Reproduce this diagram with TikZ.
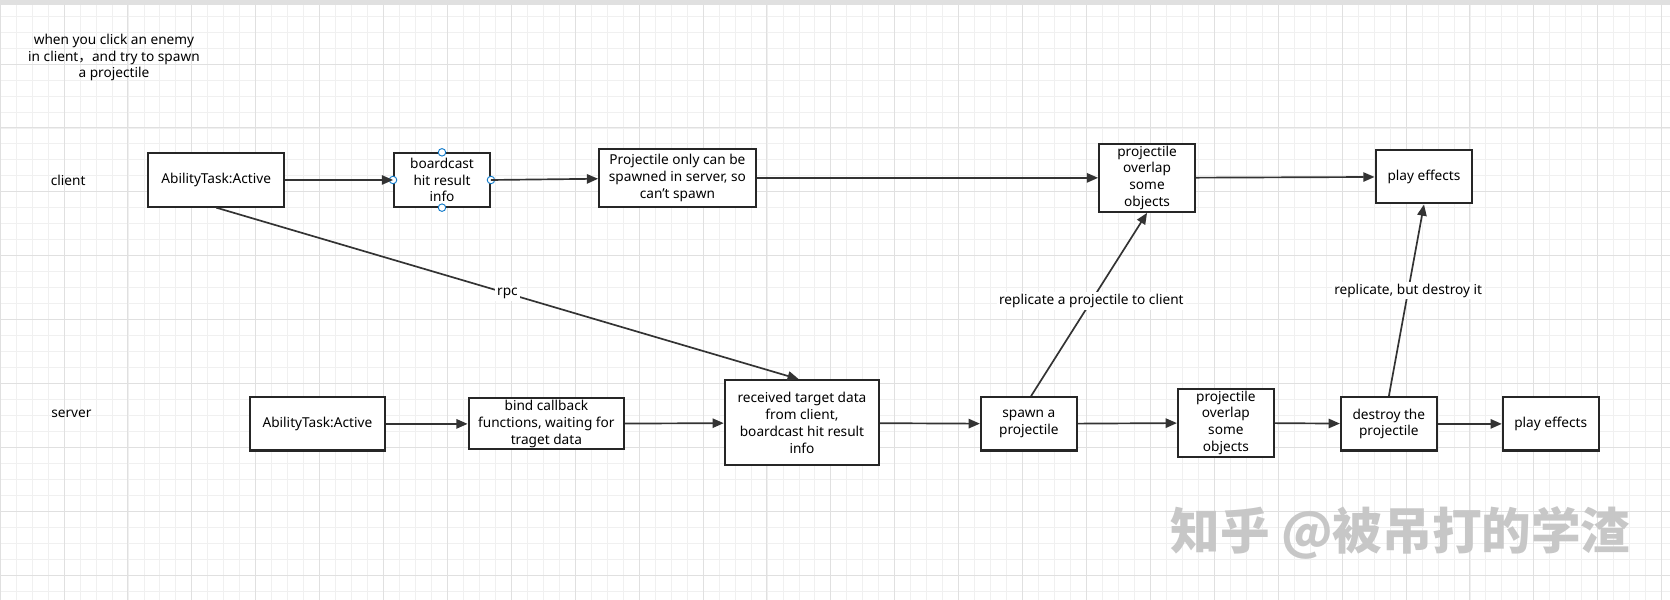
\documentclass[tikz,border=0pt]{standalone}
\usepackage{fontspec}
\setmainfont{Noto Sans}
\newfontfamily\cjk{Noto Sans CJK SC}
\usetikzlibrary{arrows.meta}
\begin{document}
\begin{tikzpicture}[x=0.02cm,y=-0.02cm,
  box/.style={draw=black!85,line width=1.1pt,fill=white,align=center,inner sep=1pt,font=\fontsize{7.3}{9}\selectfont},
  lbl/.style={align=center,font=\fontsize{7.3}{9}\selectfont,fill=white,inner sep=1pt},
  arr/.style={draw=black!80,line width=0.9pt,-{Triangle[length=6pt,width=5pt]}},
  hnd/.style={circle,draw=cyan!60!blue,fill=white,inner sep=0pt,minimum size=4pt,line width=0.5pt}]
\useasboundingbox (0,0) rectangle (1568,563);
\fill[white] (0,0) rectangle (1568,563);
\foreach \i in {0,15,...,1568} \draw[black!6,line width=0.3pt] (\i,0) -- (\i,563);
\foreach \i in {0,15,...,563} \draw[black!6,line width=0.3pt] (0,\i) -- (1568,\i);
\foreach \i in {0,60,...,1568} \draw[black!12,line width=0.4pt] (\i,0) -- (\i,563);
\foreach \i in {0,60,...,563} \draw[black!12,line width=0.4pt] (0,\i) -- (1568,\i);
\fill[black!12] (0,0) rectangle (1568,5);
\node[lbl,fill=none] (note) at (107,54) {when you click an enemy\\in client{\cjk ，}and try to spawn\\a projectile};
\node[lbl,fill=none] (client) at (64,169) {client};
\node[lbl,fill=none] (server) at (67,389) {server};
% client row
\node[box,minimum width=128*0.02cm,minimum height=50*0.02cm] (ca) at (203,169) {AbilityTask:Active};
\node[box,minimum width=90*0.02cm,minimum height=50*0.02cm] (cb) at (415,169) {boardcast\\hit result\\info};
\node[box,minimum width=147*0.02cm,minimum height=55*0.02cm] (cp) at (636,167) {Projectile only can be\\spawned in server, so\\can't spawn};
\node[box,minimum width=90*0.02cm,minimum height=63*0.02cm] (co) at (1077,167) {projectile\\overlap\\some\\objects};
\node[box,minimum width=91*0.02cm,minimum height=50*0.02cm] (ce) at (1337,166) {play effects};
\foreach \a in {north,south,east,west} \node[hnd] at (cb.\a) {};
% server row
\node[box,minimum width=127*0.02cm,minimum height=50*0.02cm] (sa) at (298,398) {AbilityTask:Active};
\node[box,minimum width=146*0.02cm,minimum height=45*0.02cm] (sb) at (513,398) {bind callback\\functions, waiting for\\traget data};
\node[box,minimum width=145*0.02cm,minimum height=80*0.02cm] (sr) at (753,397) {received target data\\from client,\\boardcast hit result\\info};
\node[box,minimum width=90*0.02cm,minimum height=50*0.02cm] (ss) at (966,398) {spawn a\\projectile};
\node[box,minimum width=90*0.02cm,minimum height=62*0.02cm] (so) at (1151,397) {projectile\\overlap\\some\\objects};
\node[box,minimum width=90*0.02cm,minimum height=50*0.02cm] (sd) at (1304,398) {destroy the\\projectile};
\node[box,minimum width=90*0.02cm,minimum height=50*0.02cm] (se) at (1456,398) {play effects};
% edges
\draw[arr] (ca) -- (cb.west);
\draw[arr] (cb.east) -- (cp);
\draw[arr] (cp) -- (co);
\draw[arr] (co) -- (ce);
\draw[arr] (sa) -- (sb);
\draw[arr] (sb) -- (sr);
\draw[arr] (sr) -- (ss);
\draw[arr] (ss) -- (so);
\draw[arr] (so) -- (sd);
\draw[arr] (sd) -- (se);
\draw[arr] (ca.south) -- node[lbl,pos=0.5] {rpc} ([xshift=-3*0.02cm]sr.north);
\draw[arr] ([xshift=2*0.02cm]ss.north) -- node[lbl,pos=0.52] {replicate a projectile to client} (co.south);
\draw[arr] (sd.north) -- node[lbl,pos=0.55] {replicate, but destroy it} (ce.south);
\node[font=\cjk\bfseries\fontsize{26.5}{28}\selectfont,text=black!22] (wm) at (1315,500) {知乎 @被吊打的学渣};
\end{tikzpicture}
\end{document}
